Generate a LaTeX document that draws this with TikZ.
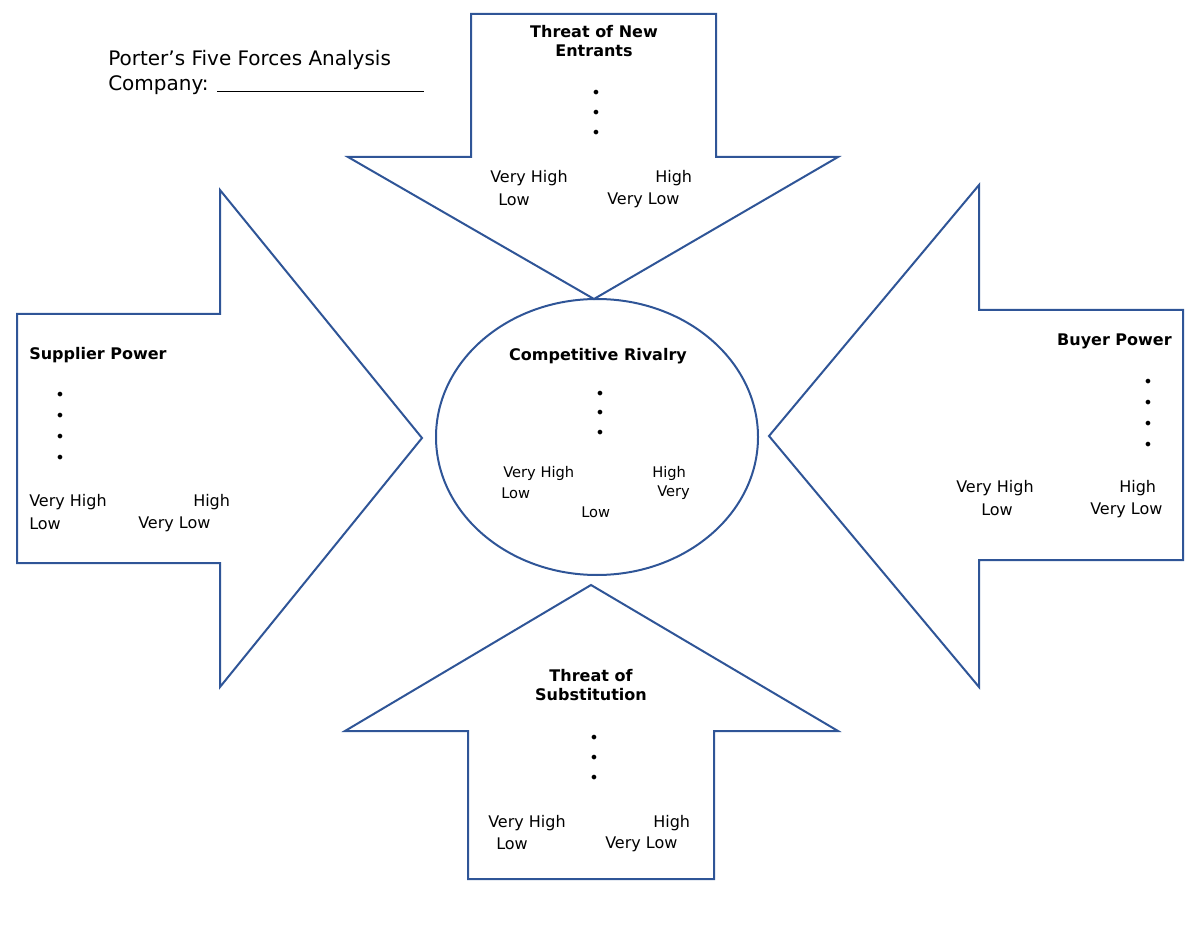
\documentclass[tikz,border=0pt]{standalone}
\usepackage{fontspec}
\setmainfont{DejaVu Sans}
\begin{document}
\begin{tikzpicture}[x=0.75pt,y=-0.75pt,
  shp/.style={draw=blue!45!black!80!cyan, color={rgb,255:red,47;green,85;blue,151}, line width=1.5pt, line join=miter},
  t/.style={font=\fontsize{12}{14}\selectfont, inner sep=0pt, align=left},
  ts/.style={font=\fontsize{11}{13}\selectfont, inner sep=0pt},
  h/.style={font=\fontsize{12}{14}\selectfont\bfseries, inner sep=0pt, align=center},
  b/.style={font=\fontsize{12}{14}\selectfont, inner sep=0pt}]
\useasboundingbox (0,0) rectangle (1200,927);
\definecolor{bl}{RGB}{47,85,151}
\draw[bl,line width=1.5pt] (471,14)--(716,14)--(716,157)--(838,157)--(594,299)--(348,157)--(471,157)--cycle;
\draw[bl,line width=1.5pt] (17,314)--(220,314)--(220,190)--(422,438)--(220,687)--(220,563)--(17,563)--cycle;
\draw[bl,line width=1.5pt] (1183,310)--(979,310)--(979,185)--(769,436)--(979,687)--(979,560)--(1183,560)--cycle;
\draw[bl,line width=1.5pt] (591,585)--(838,731)--(714,731)--(714,879)--(468,879)--(468,731)--(345,731)--cycle;
\draw[bl,line width=1.5pt] (597,437) ellipse [x radius=161, y radius=138];
\node[font=\fontsize{15}{19}\selectfont, inner sep=0pt, anchor=north west, align=left] (title) at (108,50) {Porter’s Five Forces Analysis\\Company: \rule[-1pt]{155pt}{0.6pt}};
% top
\node[h] (th) at (594,41) {Threat of New\\Entrants};
\foreach \y [count=\i] in {94,114,134} \node[b] (tb\i) at (596,\y) {•};
\node[t,anchor=west] (t1) at (490,178) {Very High};
\node[t,anchor=west] (t2) at (655,178) {High};
\node[t,anchor=west] (t3) at (498,200) {Low};
\node[t,anchor=west] (t4) at (607,200) {Very Low};
% left
\node[h,anchor=west] (lh) at (29,355) {Supplier Power};
\foreach \y [count=\i] in {396,417,438,459} \node[b] (lb\i) at (60,\y) {•};
\node[t,anchor=west] (l1) at (29,502) {Very High};
\node[t,anchor=west] (l2) at (193,502) {High};
\node[t,anchor=west] (l3) at (29,524) {Low};
\node[t,anchor=west] (l4) at (138,524) {Very Low};
% right
\node[h,anchor=east] (rh) at (1172,341) {Buyer Power};
\foreach \y [count=\i] in {383,404,425,446} \node[b] (rb\i) at (1148,\y) {•};
\node[t,anchor=west] (r1) at (956,488) {Very High};
\node[t,anchor=west] (r2) at (1119,488) {High};
\node[t,anchor=west] (r3) at (981,510) {Low};
\node[t,anchor=west] (r4) at (1090,510) {Very Low};
% center
\node[h] (ch) at (598,356) {Competitive Rivalry};
\foreach \y [count=\i] in {395,414,434} \node[b] (cb\i) at (600,\y) {•};
\node[ts,anchor=west] (c1) at (503,473) {Very High};
\node[ts,anchor=west] (c2) at (652,473) {High};
\node[ts,anchor=west] (c3) at (501,493) {Low};
\node[ts,anchor=west] (c4) at (657,493) {Very};
\node[ts,anchor=west] (c5) at (581,512) {Low};
% bottom
\node[h] (bh) at (591,685) {Threat of\\Substitution};
\foreach \y [count=\i] in {739,759,779} \node[b] (bb\i) at (594,\y) {•};
\node[t,anchor=west] (b1) at (488,823) {Very High};
\node[t,anchor=west] (b2) at (653,823) {High};
\node[t,anchor=west] (b3) at (496,844) {Low};
\node[t,anchor=west] (b4) at (605,844) {Very Low};
\end{tikzpicture}
\end{document}
